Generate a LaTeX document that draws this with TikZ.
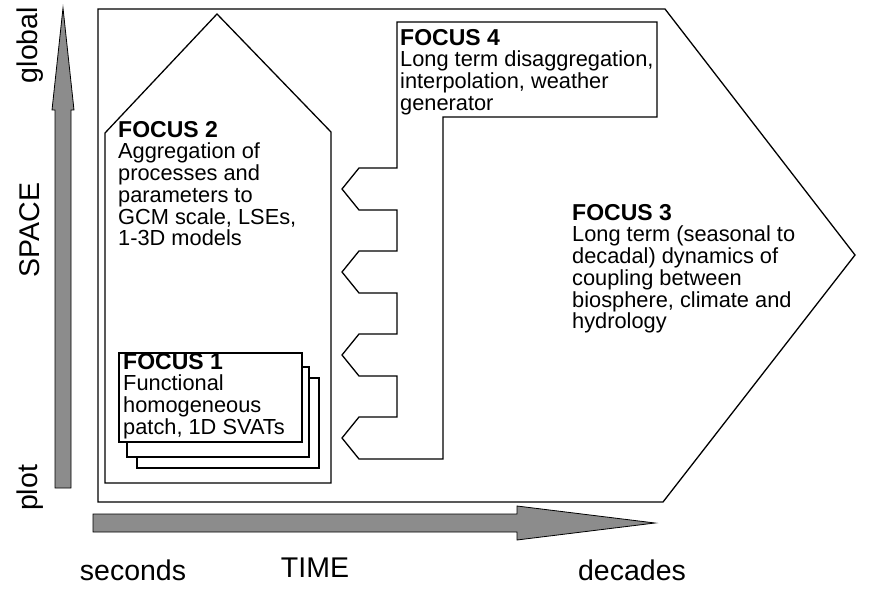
\documentclass[tikz,border=0pt]{standalone}
\usepackage{fontspec}
\setmainfont{Liberation Sans}
\newcommand{\hdfont}{\fontsize{23}{21.7}\selectfont\bfseries}
\begin{document}
\begin{tikzpicture}[x=1pt,y=-1pt,
  shp/.style={draw=black,line width=1.3pt,line join=miter},
  bigarrow/.style={draw=black,line width=0.8pt,fill=black!45},
  txt/.style={anchor=north west,inner sep=0pt,align=left,font=\fontsize{21.8}{21.7}\selectfont},
  axl/.style={inner sep=0pt,font=\fontsize{28.5}{30}\selectfont}]
\useasboundingbox (0,0) rectangle (878,599);
% focus 3 outer
\draw[shp] (98,9) -- (665,9) -- (855,255) -- (663,502) -- (98,502) -- cycle;
% focus 2
\draw[shp] (105,483) -- (105,133) -- (217,14) -- (331,132) -- (331,483) -- cycle;
% focus 1 stack
\draw[shp,fill=white] (137,378) rectangle (319,468);
\draw[shp,fill=white] (127,367) rectangle (309,457);
\draw[shp,fill=white] (119,353) rectangle (302,442);
% focus 4
\draw[shp] (397,22) -- (657,22) -- (657,117) -- (443,117) -- (443,459) -- (359,459)
  -- (342,438) -- (359,417) -- (397,417) -- (397,376)
  -- (359,376) -- (342,355) -- (359,334) -- (397,334) -- (397,293)
  -- (359,293) -- (342,272) -- (359,251) -- (397,251) -- (397,210)
  -- (359,210) -- (342,189) -- (359,168) -- (397,168) -- cycle;
% arrows
\draw[bigarrow] (55,488) -- (55,110) -- (52,110) -- (63,8) -- (74,110) -- (71,110) -- (71,488) -- cycle;
\draw[bigarrow] (93,514) -- (517,514) -- (517,506) -- (655,523) -- (517,540) -- (517,532) -- (93,532) -- cycle;
% texts
\node[txt] (f4) at (400,29) {{\hdfont FOCUS 4}\\Long term disaggregation,\\interpolation, weather\\generator};
\node[txt] (f2) at (118,121) {{\hdfont FOCUS 2}\\Aggregation of\\processes and\\parameters to\\GCM scale, LSEs,\\1-3D models};
\node[txt] (f3) at (572,204) {{\hdfont FOCUS 3}\\Long term (seasonal to\\decadal) dynamics of\\coupling between\\biosphere, climate and\\hydrology};
\node[txt] (f1) at (123,353) {{\hdfont FOCUS 1}\\Functional\\homogeneous\\patch, 1D SVATs};
\node[axl,rotate=90] (glob) at (30,45) {global};
\node[axl,rotate=90] (space) at (30,230) {SPACE};
\node[axl,rotate=90] (plot) at (30,488) {plot};
\node[axl] (sec) at (133,570) {seconds};
\node[axl] (time) at (315,568) {TIME};
\node[axl] (dec) at (632,570) {decades};
\end{tikzpicture}
\end{document}
